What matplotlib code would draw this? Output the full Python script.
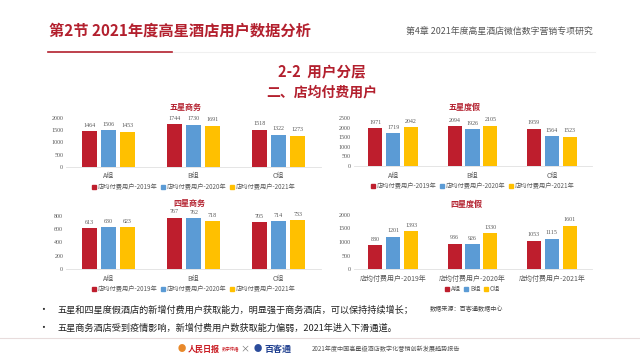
import matplotlib
matplotlib.use('Agg')
import matplotlib.pyplot as plt
from matplotlib.patches import Patch
from matplotlib.lines import Line2D
import numpy as np

plt.rcParams['font.family'] = ['Noto Sans CJK SC', 'DejaVu Sans']

W, H = 640, 360
RED = '#BE1E2D'
BLUE = '#5B9BD5'
YELLOW = '#FFC000'
TITLE_RED = '#B3202E'
GREY = '#595959'

categories = ['A组', 'B组', 'C组']
years = ['店均付费用户-2019年', '店均付费用户-2020年', '店均付费用户-2021年']

# 五星商务
five_biz_2019 = [1464, 1744, 1518]
five_biz_2020 = [1506, 1730, 1322]
five_biz_2021 = [1453, 1691, 1273]
# 五星度假
five_res_2019 = [1971, 2094, 1959]
five_res_2020 = [1719, 1926, 1564]
five_res_2021 = [2042, 2105, 1523]
# 四星商务
four_biz_2019 = [613, 767, 705]
four_biz_2020 = [630, 762, 714]
four_biz_2021 = [623, 718, 733]
# 四星度假 (grouped by year, series = group)
four_res_A = [880, 936, 1053]
four_res_B = [1201, 926, 1115]
four_res_C = [1393, 1330, 1601]


def fx(px):
    return px / W


def fy(py):
    return 1 - py / H


def add_axes(fig, left, right, top, bottom):
    return fig.add_axes([fx(left), fy(bottom), fx(right - left), (bottom - top) / H])


def bar_chart(fig, box, xlabels, series, names, ymax, step, title, title_xy, legend_y):
    ax = add_axes(fig, *box)
    x = np.arange(len(xlabels))
    colors = [RED, BLUE, YELLOW]
    off = 0.225
    for i, vals in enumerate(series):
        bars = ax.bar(x + (i - 1) * off, vals, width=0.178, color=colors[i], zorder=2)
        for b, v in zip(bars, vals):
            ax.annotate(str(v), (b.get_x() + b.get_width() / 2, v), xytext=(0, 2.5),
                        textcoords='offset points', ha='center', va='bottom',
                        fontsize=4.3, color=GREY, family='Liberation Serif')
    ax.set_xlim(-0.5, len(xlabels) - 0.5)
    ax.set_ylim(0, ymax)
    ax.set_yticks(np.arange(0, ymax + 1, step))
    ax.set_xticks(x)
    ax.set_xticklabels(xlabels, fontsize=5, color=GREY)
    for lab in ax.get_yticklabels():
        lab.set_fontsize(4.3)
        lab.set_color(GREY)
        lab.set_family('Liberation Serif')
    ax.tick_params(axis='y', length=0, pad=2)
    ax.tick_params(axis='x', length=0, pad=4)
    for s in ['top', 'right', 'left']:
        ax.spines[s].set_visible(False)
    ax.spines['bottom'].set_color('#E0E0E0')
    ax.spines['bottom'].set_linewidth(0.6)
    ax.patch.set_alpha(0)
    fig.text(fx(title_xy[0]), fy(title_xy[1]), title, ha='center', va='center',
             fontsize=5.8, color=TITLE_RED, fontweight='bold')
    handles = [Patch(color=c) for c in colors]
    cx = (box[0] + box[1]) / 2
    fig.legend(handles, names, loc='center', bbox_to_anchor=(fx(cx), fy(legend_y)),
               ncol=3, frameon=False, fontsize=4.5, handlelength=0.6, handleheight=0.6,
               handletextpad=0.3, columnspacing=0.6, labelcolor=GREY)
    return ax


def main():
    fig = plt.figure(figsize=(6.4, 3.6), dpi=100)
    fig.patch.set_facecolor('white')

    ## header
    fig.text(fx(49), fy(31), '第2节 2021年度高星酒店用户数据分析', ha='left', va='center',
             fontsize=11, color=TITLE_RED, fontweight='bold')
    fig.text(fx(593), fy(31), '第4章 2021年度高星酒店微信数字营销专项研究', ha='right', va='center',
             fontsize=6.4, color='#555555')
    fig.add_artist(Line2D([fx(172), fx(595)], [fy(52), fy(52)], color='#F0F0F0', lw=0.8))
    fig.add_artist(Line2D([fx(48), fx(172)], [fy(52), fy(52)], color=TITLE_RED, lw=1.2))
    fig.text(fx(322), fy(71), '2-2  用户分层', ha='center', va='center',
             fontsize=10.5, color=TITLE_RED, fontweight='bold')
    fig.text(fx(322), fy(93), '二、店均付费用户', ha='center', va='center',
             fontsize=10, color=TITLE_RED, fontweight='bold')

    ## charts
    bar_chart(fig, (66, 321, 118.3, 166.7), categories,
              [five_biz_2019, five_biz_2020, five_biz_2021], years,
              2000, 500, '五星商务', (186, 107.5), 187)
    bar_chart(fig, (353.5, 591.5, 118.3, 166), categories,
              [five_res_2019, five_res_2020, five_res_2021], years,
              2500, 500, '五星度假', (465, 107.5), 186)
    bar_chart(fig, (66, 321, 215.7, 269), categories,
              [four_biz_2019, four_biz_2020, four_biz_2021], years,
              800, 200, '四星商务', (189, 203.5), 289)
    bar_chart(fig, (353.5, 591.5, 215, 269), years,
              [four_res_A, four_res_B, four_res_C], categories,
              2000, 500, '四星度假', (466, 204.5), 289)

    ## bullets
    fig.text(fx(43), fy(310), '•', ha='center', va='center', fontsize=7, color='#222222')
    fig.text(fx(43), fy(328), '•', ha='center', va='center', fontsize=7, color='#222222')
    fig.text(fx(58), fy(310), '五星和四星度假酒店的新增付费用户获取能力，明显强于商务酒店，可以保持持续增长；',
             ha='left', va='center', fontsize=6.6, color='#222222')
    fig.text(fx(58), fy(328), '五星商务酒店受到疫情影响，新增付费用户数获取能力偏弱，2021年进入下滑通道。',
             ha='left', va='center', fontsize=6.6, color='#222222')
    fig.text(fx(430), fy(309), '数据来源：百客通数据中心', ha='left', va='center',
             fontsize=4.4, color='#444444')

    ## footer
    fig.add_artist(Line2D([0, 1], [fy(338), fy(338)], color='#E8DCDC', lw=0.8))
    fig.text(fx(182), fy(349), '●', ha='center', va='center', fontsize=6, color='#E8892B')
    fig.text(fx(188), fy(349), '人民日报', ha='left', va='center', fontsize=5.8,
             color='#C8161D', style='italic', fontweight='bold')
    fig.text(fx(222), fy(349.5), '数字传播', ha='left', va='center', fontsize=3.2, color='#C8161D')
    fig.text(fx(245), fy(349), '×', ha='center', va='center', fontsize=6.5, color='#777777')
    fig.text(fx(258), fy(349), '●', ha='center', va='center', fontsize=6, color='#2B4C9B')
    fig.text(fx(264), fy(349), '百客通', ha='left', va='center', fontsize=6.5,
             color='#1F3F8F', fontweight='bold', style='italic')
    fig.text(fx(312), fy(349), '2021年度中国高星级酒店数字化营销创新发展趋势报告', ha='left',
             va='center', fontsize=4.4, color='#555555')

    fig.savefig('out.png', dpi=100)


if __name__ == '__main__':
    main()
